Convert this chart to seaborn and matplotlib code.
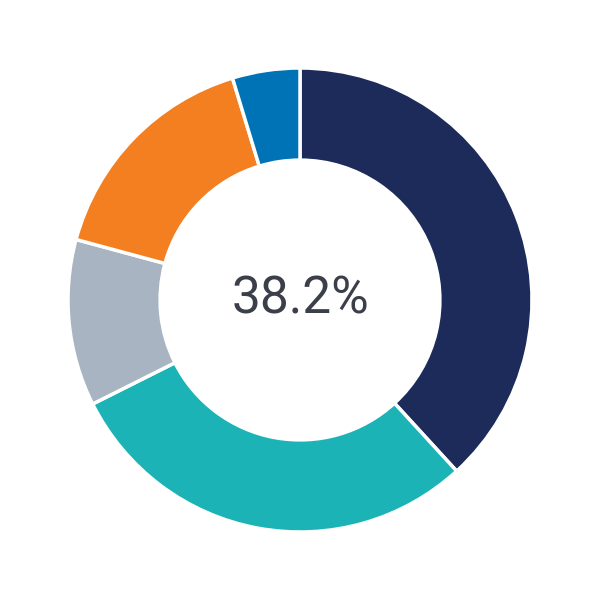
import matplotlib
matplotlib.use("Agg")
import matplotlib.pyplot as plt
import seaborn as sns

labels = ["A", "B", "C", "D", "E"]
values = [38.2, 29.4, 11.6, 16.1, 4.7]
colors = ["#1c2b5a", "#1bb3b6", "#a9b4c2", "#f37f21", "#0072b6"]
center_text = "38.2%"

sns.set_theme(style="white")
fig = plt.figure(figsize=(6, 6), dpi=100)
ax = fig.add_axes([0, 0, 1, 1])
ax.pie(values, colors=colors, startangle=90, counterclock=False, radius=1,
       wedgeprops=dict(width=0.397, edgecolor="white", linewidth=2.5))
lim = 300 / 232
ax.set_xlim(-lim, lim)
ax.set_ylim(-lim, lim)
ax.set_aspect("equal")
ax.axis("off")
ax.text(0, 0, center_text, ha="center", va="center", fontsize=37,
        color="#3a3f4a", family=["Roboto", "DejaVu Sans"])
fig.savefig("out.png", dpi=100, facecolor="white")
